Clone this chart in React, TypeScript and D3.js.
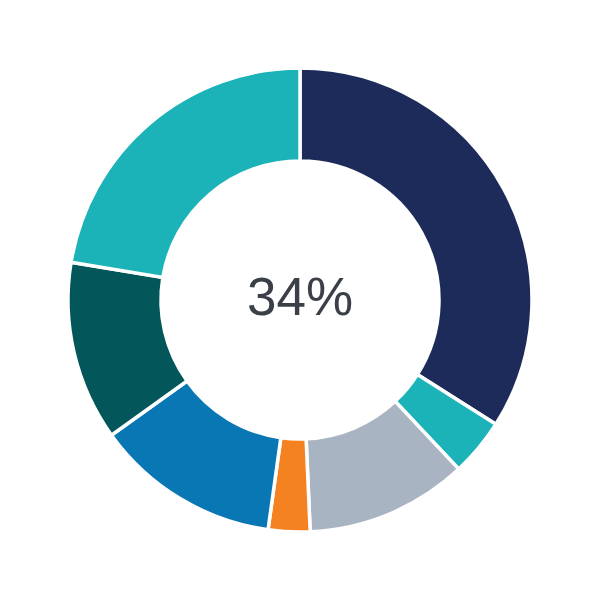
import React from 'react';
import * as d3 from 'd3';

const categories = ['A', 'B', 'C', 'D', 'E', 'F', 'G'];
const values = [34, 4, 11.3, 2.9, 12.9, 12.5, 22.4];
const colors = ['#1c2b5a', '#1bb3b8', '#a9b4c2', '#f58220', '#0a77b5', '#03565a', '#1bb3b8'];
const centerLabel = '34%';

const width = 600;
const height = 600;

const App = () => {
  const outerRadius = 232;
  const innerRadius = 139;

  const pie = d3
    .pie<number>()
    .sort(null)
    .value((d) => d);

  const arc = d3
    .arc<d3.PieArcDatum<number>>()
    .innerRadius(innerRadius)
    .outerRadius(outerRadius);

  const arcs = pie(values);

  return (
    <svg
      width={width}
      height={height}
      style={{ position: 'absolute', left: 0, top: 0, background: '#fff' }}
    >
      <g transform={`translate(${width / 2},${height / 2})`}>
        {arcs.map((a, i) => (
          <path
            key={categories[i]}
            d={arc(a) || ''}
            fill={colors[i]}
            stroke="#fff"
            strokeWidth={3.5}
            strokeLinejoin="miter"
          />
        ))}
        <text
          x={0}
          y={15}
          textAnchor="middle"
          fontFamily="'Liberation Sans', Arial, sans-serif"
          fontSize={53}
          fill="#3a3f48"
        >
          {centerLabel}
        </text>
      </g>
    </svg>
  );
};

export default App;
